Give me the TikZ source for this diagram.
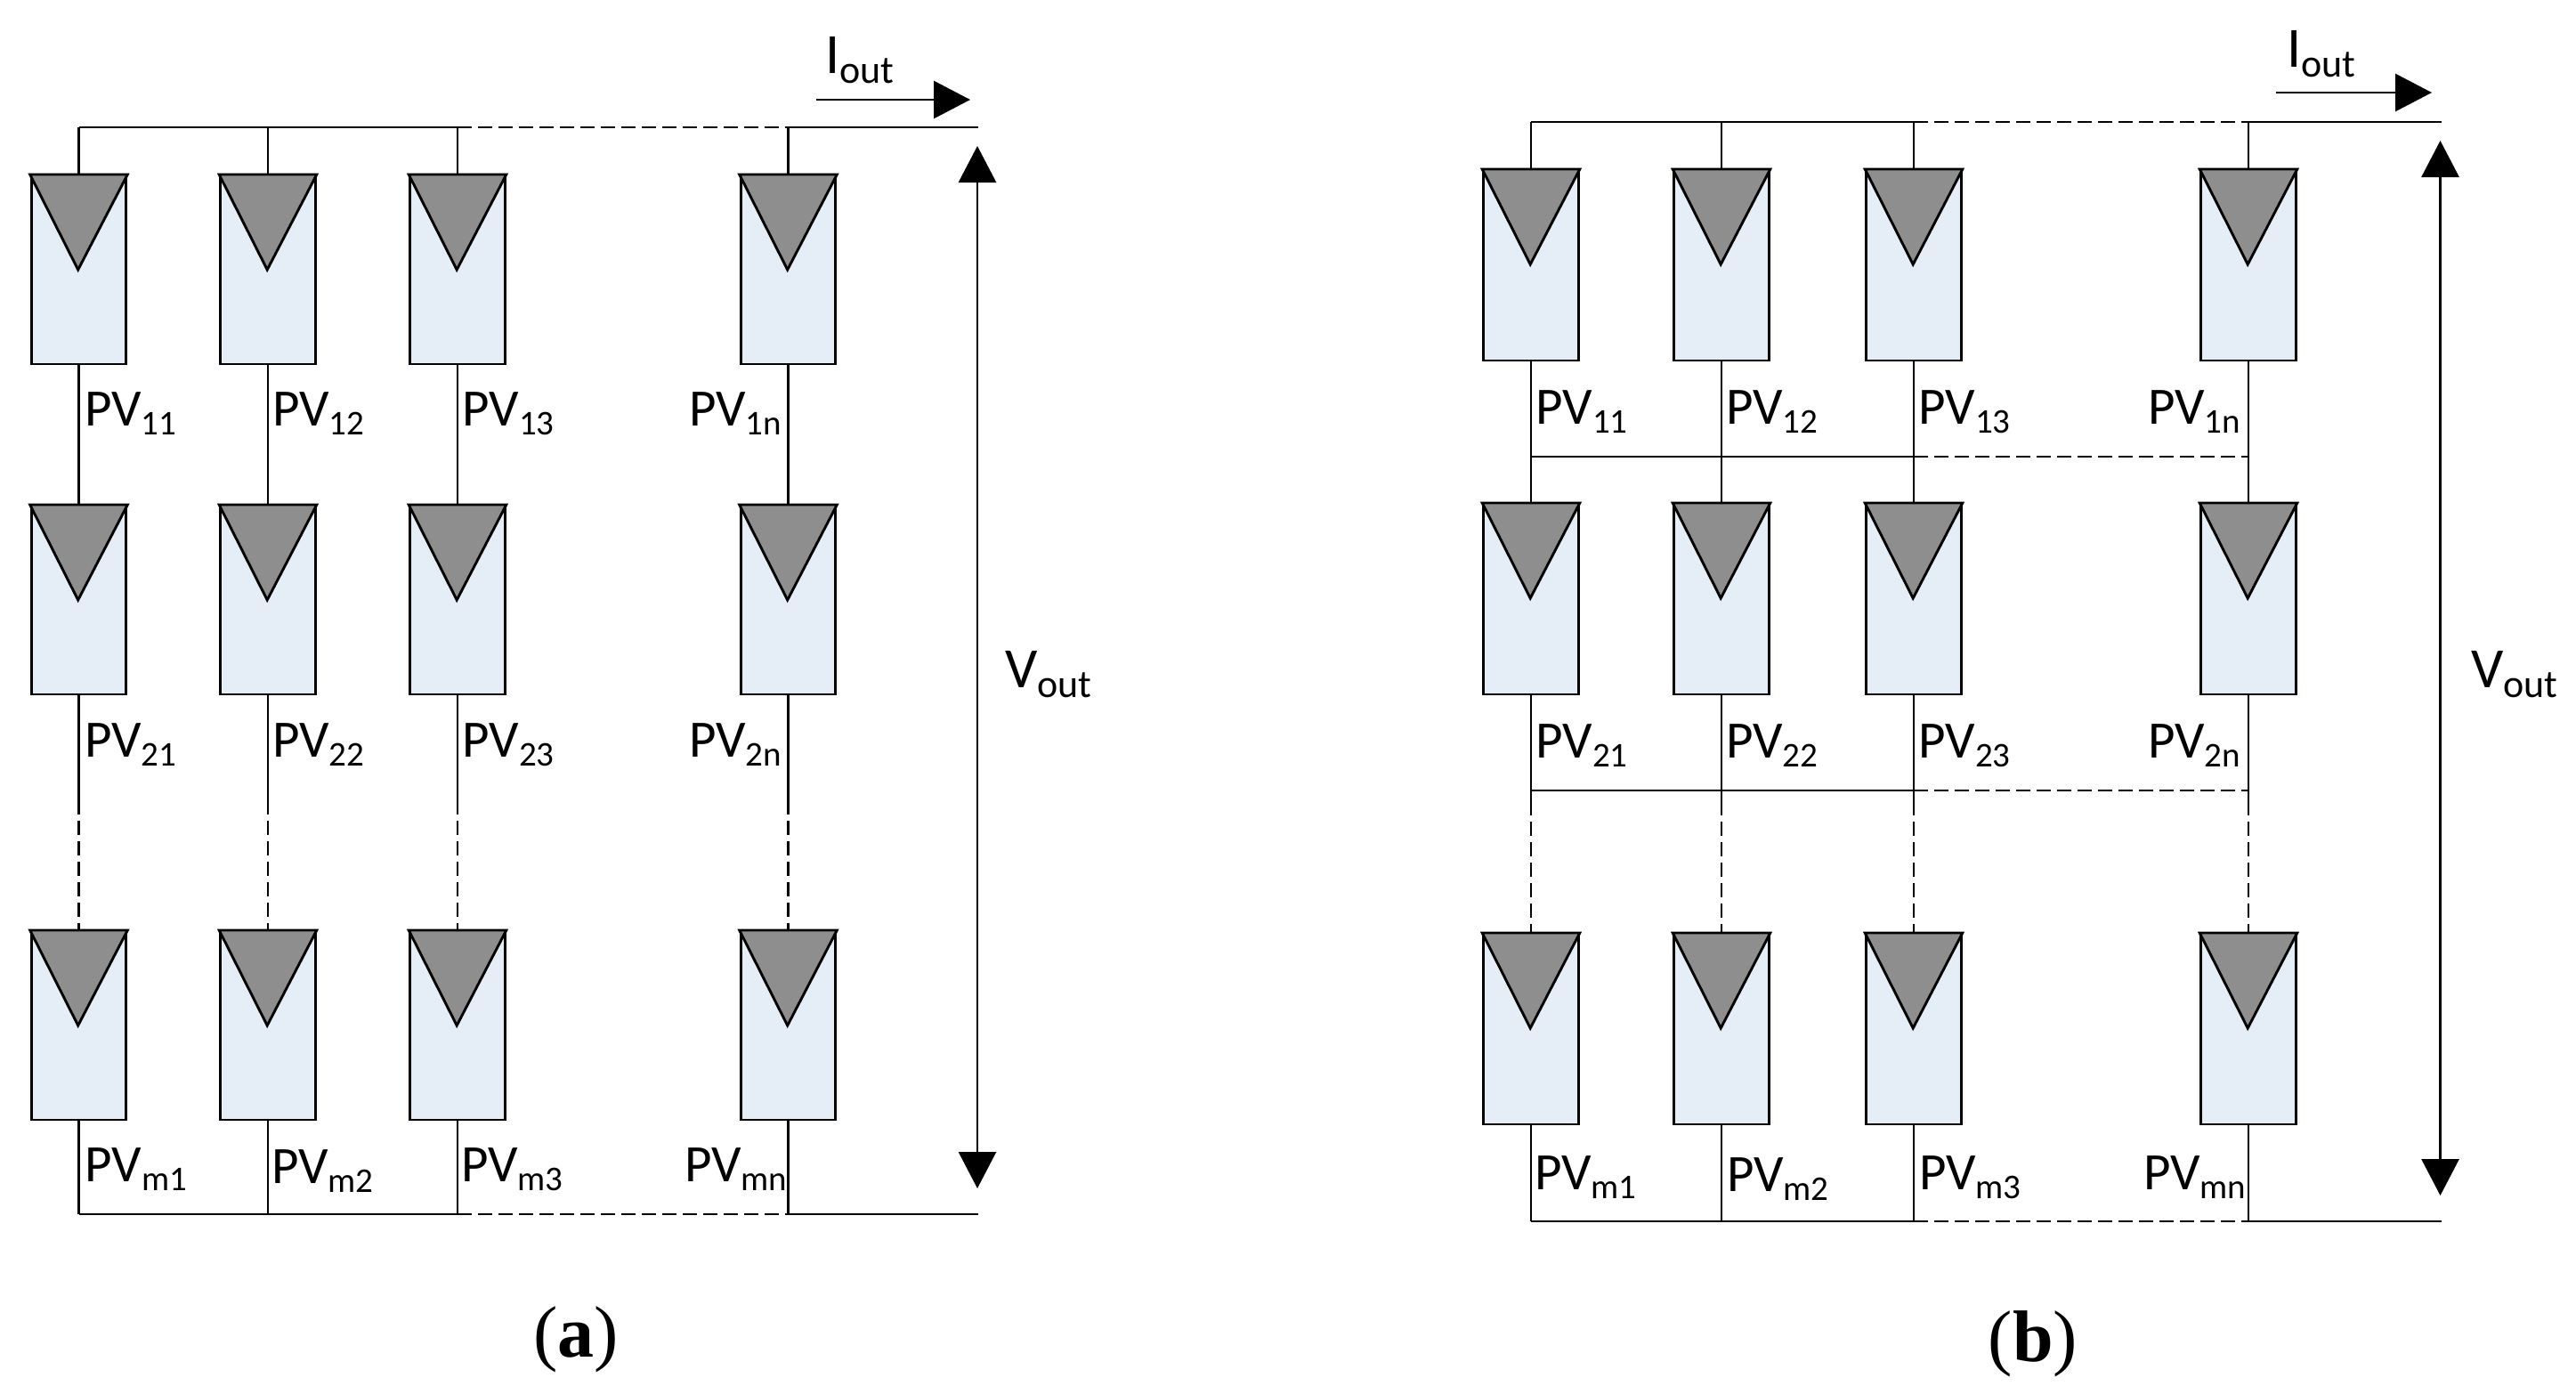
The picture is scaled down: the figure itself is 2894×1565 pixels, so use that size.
\documentclass[tikz,border=0pt]{standalone}
\usepackage{fontspec}
\setmainfont{Carlito}
\newfontfamily\capfont{Liberation Serif}
\usetikzlibrary{arrows.meta}
\definecolor{panelfill}{HTML}{E5EDF7}
\definecolor{trifill}{HTML}{8E8E8E}
\newcommand{\subtext}[2]{#1\raisebox{-5pt}{\fontsize{19.5}{19.5}\selectfont #2}}
\newcommand{\outtext}[1]{#1\raisebox{-5.5pt}{\fontsize{22}{22}\selectfont out}}
\tikzset{
  wire/.style={line width=1.45pt},
  dashwire/.style={line width=1.45pt,dash pattern=on 8pt off 3.5pt},
  panel/.style={draw,line width=1.45pt,fill=panelfill,minimum width=53.2pt,inner sep=0pt,outer sep=0pt},
  tri/.style={draw,line width=1.45pt,fill=trifill,line join=miter},
  pvlabel/.style={anchor=base west,inner sep=0pt,outer sep=0pt,font=\fontsize{29.5}{29.5}\selectfont},
  outlabel/.style={anchor=base west,inner sep=0pt,outer sep=0pt,font=\fontsize{32}{32}\selectfont},
  caption/.style={anchor=base,inner sep=0pt,outer sep=0pt,font=\capfont\fontsize{41}{41}\selectfont},
  meter/.style={line width=1.45pt,-{Triangle[length=20.5pt,width=21pt]}}
}
\newcommand{\pvpanel}[4]{% name, x, top, height
  \node[panel,minimum height=#4pt,anchor=north] (#1) at (#2,#3) {};
  \draw[tri] ([xshift=-.8pt]#1.north west) -- ([xshift=.8pt]#1.north east) -- ([xshift=-.4pt,yshift=-53.5pt]#1.north) -- cycle;
}
\begin{document}
\begin{tikzpicture}[x=0.5pt,y=-0.5pt]
\useasboundingbox (0,0) rectangle (2894,1565);
% ---------- panel (a) ----------
\foreach \c/\x in {1/88.5,2/301,3/514,n/885.5}{
  \foreach \r/\t in {1/196,2/567,m/1045}{
    \pvpanel{a\r\c}{\x}{\t}{106.5}
  }
  \coordinate (atop\c) at (\x,143);
  \coordinate (abot\c) at (\x,1364);
  \coordinate (adash\c) at (\x,899);
}
\coordinate (atopr) at (1099,143);
\coordinate (abotr) at (1099,1364);
\foreach \c in {1,2,3,n}{
  \draw[wire] (atop\c) -- (a1\c.north);
  \draw[wire] (a1\c.south) -- (a2\c.north);
  \draw[wire] (a2\c.south) -- (adash\c);
  \draw[dashwire] (adash\c) -- (am\c.north);
  \draw[wire] (am\c.south) -- (abot\c);
}
\draw[wire] (atop1) -- (atop3);
\draw[dashwire] (atop3) -- (atopn);
\draw[wire] (atopn) -- (atopr);
\draw[wire] (abot1) -- (abot3);
\draw[dashwire] (abot3) -- (abotn);
\draw[wire] (abotn) -- (abotr);
\foreach \n/\s/\x/\y in {
  a11/11/95/478, a12/12/306/478, a13/13/519.5/478, a1n/1n/774/478,
  a21/21/95/850, a22/22/306/850, a23/23/519.5/850, a2n/2n/774/850,
  am1/m1/95.5/1327, am2/m2/305/1329, am3/m3/518/1327, amn/mn/769/1327}{
  \node[pvlabel] (l\n) at (\x,\y) {\subtext{PV}{\s}};
}
\coordinate (aIs) at (917,112);
\coordinate (aIe) at (1090,112);
\coordinate (aVb) at (1098,1335);
\coordinate (aVt) at (1098,164);
\draw[meter] (aIs) -- (aIe);
\draw[meter,{Triangle[length=20.5pt,width=21pt]}-{Triangle[length=20.5pt,width=21pt]}] (aVb) -- (aVt);
\node[outlabel] (aIout) at (927,82) {\outtext{I}};
\node[outlabel] (aVout) at (1129,772) {\outtext{V}};
\node[caption] (capa) at (647,1524) {(\textbf{a})};
% ---------- panel (b) ----------
\foreach \c/\x in {1/1720,2/1934,3/2150,n/2526}{
  \foreach \r/\t in {1/190,2/565,m/1048}{
    \pvpanel{b\r\c}{\x}{\t}{107.5}
  }
  \coordinate (btop\c) at (\x,137);
  \coordinate (bmida\c) at (\x,513);
  \coordinate (bmidb\c) at (\x,888);
  \coordinate (bdash\c) at (\x,900);
  \coordinate (bbot\c) at (\x,1372);
}
\coordinate (btopr) at (2743,137);
\coordinate (bbotr) at (2743,1372);
\foreach \c in {1,2,3,n}{
  \draw[wire] (btop\c) -- (b1\c.north);
  \draw[wire] (b1\c.south) -- (b2\c.north);
  \draw[wire] (b2\c.south) -- (bdash\c);
  \draw[dashwire] (bdash\c) -- (bm\c.north);
  \draw[wire] (bm\c.south) -- (bbot\c);
}
\draw[wire] (btop1) -- (btop3);
\draw[dashwire] (btop3) -- (btopn);
\draw[wire] (btopn) -- (btopr);
\draw[wire] (bmida1) -- (bmida3);
\draw[dashwire] (bmida3) -- (bmidan);
\draw[wire] (bmidb1) -- (bmidb3);
\draw[dashwire] (bmidb3) -- (bmidbn);
\draw[wire] (bbot1) -- (bbot3);
\draw[dashwire] (bbot3) -- (bbotn);
\draw[wire] (bbotn) -- (bbotr);
\foreach \n/\s/\x/\y in {
  b11/11/1725.5/476, b12/12/1939/476, b13/13/2155.5/476, b1n/1n/2413/476,
  b21/21/1725.5/851, b22/22/1939/851, b23/23/2155.5/851, b2n/2n/2413/851,
  bm1/m1/1724/1336, bm2/m2/1940/1338, bm3/m3/2156/1336, bmn/mn/2408/1336}{
  \node[pvlabel] (l\n) at (\x,\y) {\subtext{PV}{\s}};
}
\coordinate (bIs) at (2557,104);
\coordinate (bIe) at (2732,104);
\coordinate (bVb) at (2741.5,1343);
\coordinate (bVt) at (2741.5,158);
\draw[meter] (bIs) -- (bIe);
\draw[meter,{Triangle[length=20.5pt,width=21pt]}-{Triangle[length=20.5pt,width=21pt]}] (bVb) -- (bVt);
\node[outlabel] (bIout) at (2569,75) {\outtext{I}};
\node[outlabel] (bVout) at (2776,772) {\outtext{V}};
\node[caption] (capb) at (2284,1529.5) {(\textbf{b})};
\end{tikzpicture}
\end{document}
